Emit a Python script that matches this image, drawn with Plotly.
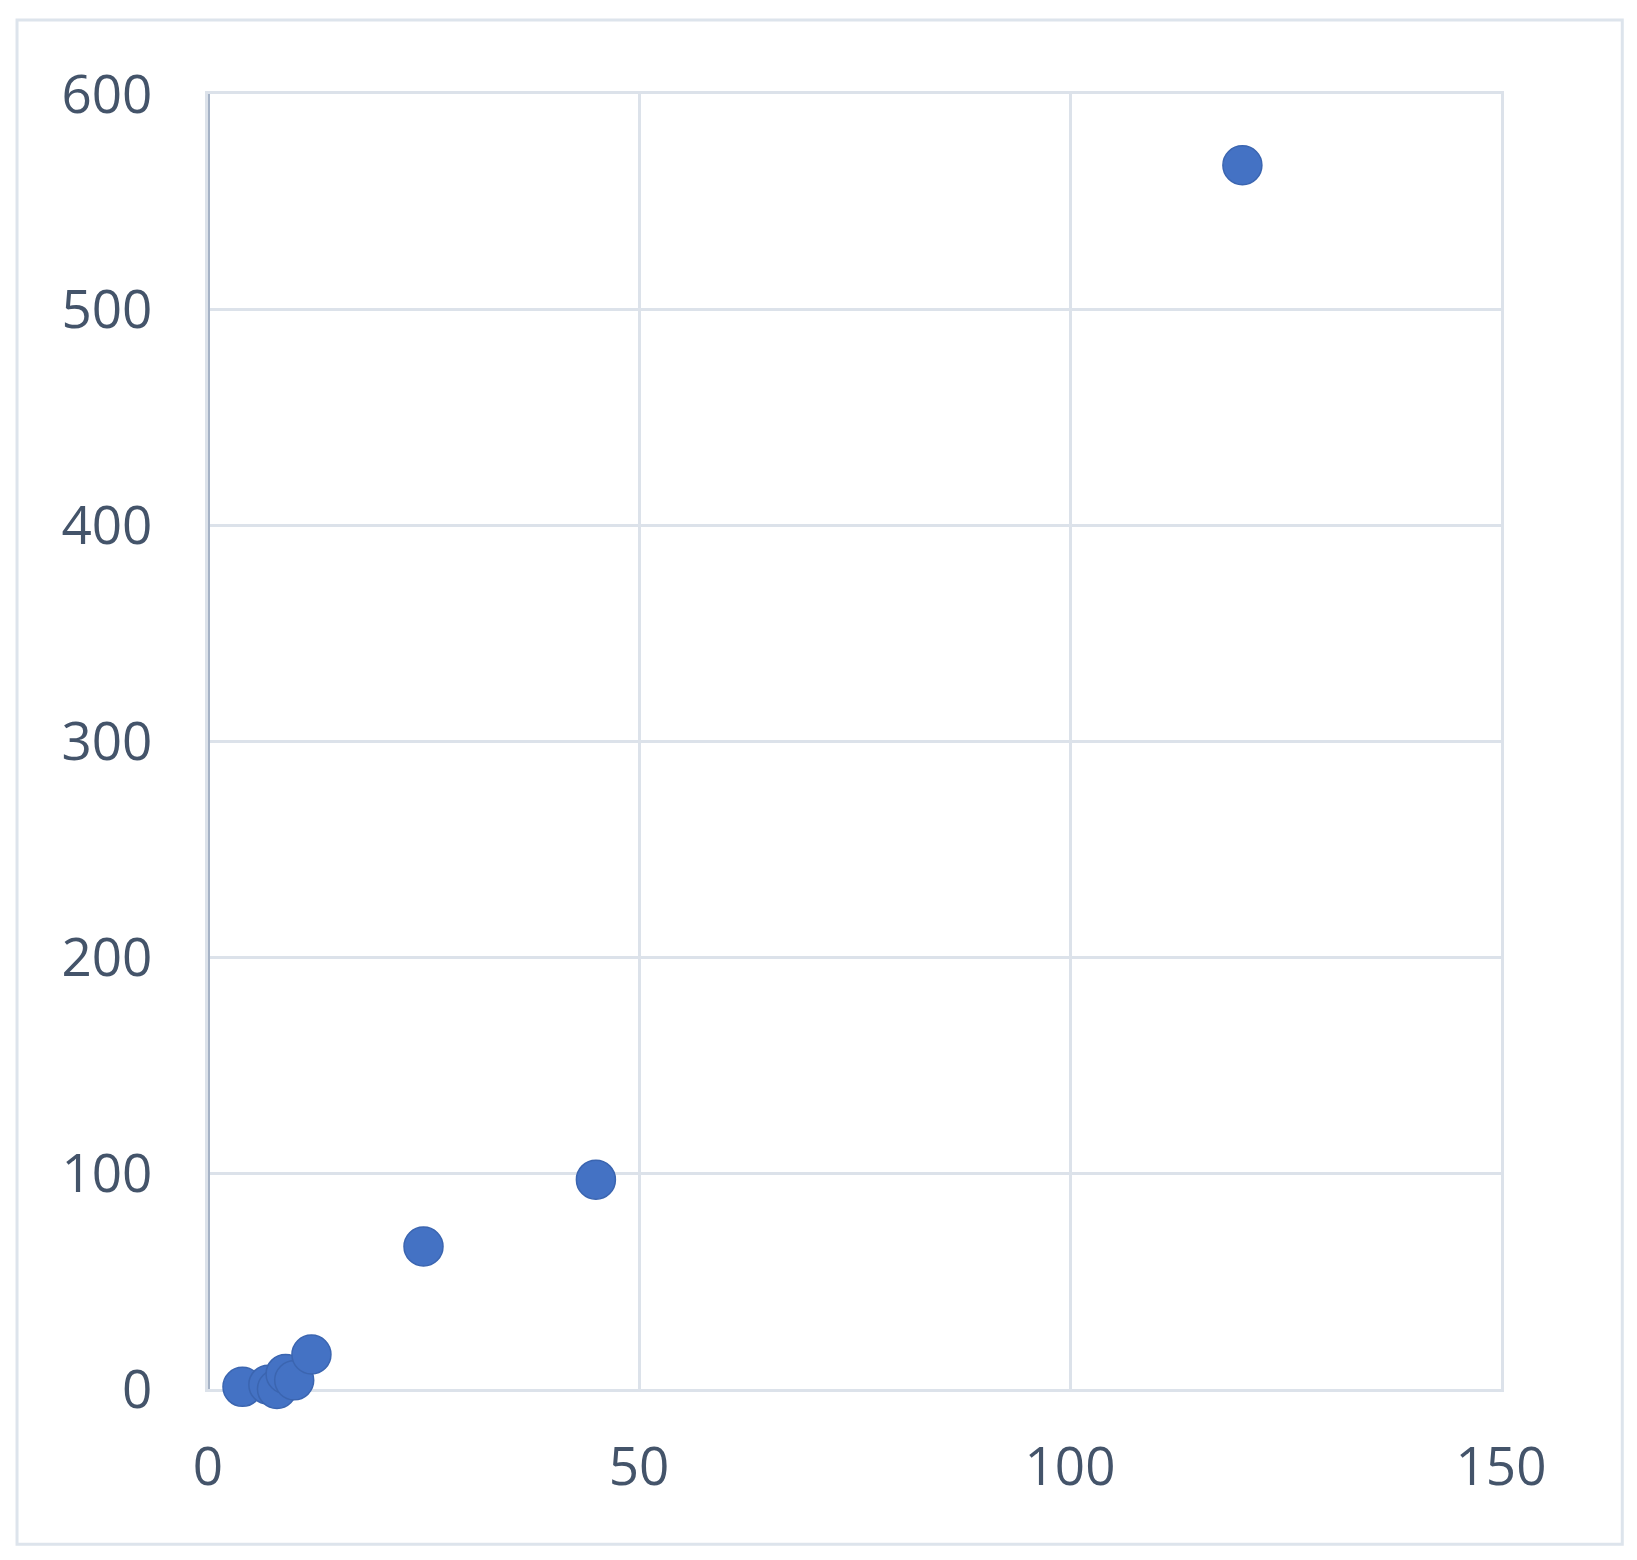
import plotly.graph_objects as go

# значения
x_vals = [4, 7, 8, 9, 10, 12, 25, 45, 120]
y_vals = [1, 2, 0, 7, 4, 16, 66, 97, 567]

x_ticks = [0, 50, 100, 150]
y_ticks = [0, 100, 200, 300, 400, 500, 600]

colors = {
    "marker": "#4472C4",
    "edge":   "#3B65B0",
    "grid":   "#DCE2EA",
    "axis":   "#A6B3C6",
    "text":   "#44546A",
    "frame":  "#DDE4EC",
}

fig = go.Figure()

fig.add_trace(go.Scatter(
    x=x_vals,
    y=y_vals,
    mode="markers",
    marker=dict(size=39, color=colors["marker"], line=dict(color=colors["edge"], width=1.5)),
    showlegend=False,
    cliponaxis=False,
))

axis_common = dict(
    showgrid=True,
    gridcolor=colors["grid"],
    gridwidth=3,
    zeroline=False,
    showline=True,
    mirror=True,
    linecolor=colors["grid"],
    linewidth=3,
    ticks="",
    layer="below traces",
    fixedrange=True,
)

fig.update_layout(
    width=1637,
    height=1560,
    paper_bgcolor="white",
    plot_bgcolor="white",
    font=dict(family="Open Sans", size=53, color=colors["text"]),
    margin=dict(l=200, r=144, t=86, b=179),
    xaxis=dict(range=[0, 150], tickvals=x_ticks, ticklabelstandoff=29, **axis_common),
    yaxis=dict(range=[0, 600], tickvals=y_ticks, ticklabelstandoff=42, **axis_common),
    shapes=[
        # левая ось — темнее сетки (точки до неё не достают)
        dict(type="line", xref="x", yref="paper", x0=0, x1=0, y0=0, y1=1,
             line=dict(color=colors["axis"], width=4), layer="above"),
        # рамка вокруг всей диаграммы
        dict(type="rect", xref="paper", yref="paper",
             x0=-0.1477, x1=1.0938, y0=-0.1198, y1=1.0571,
             line=dict(color=colors["frame"], width=3), layer="below"),
    ],
)

fig.write_html("out.html")
